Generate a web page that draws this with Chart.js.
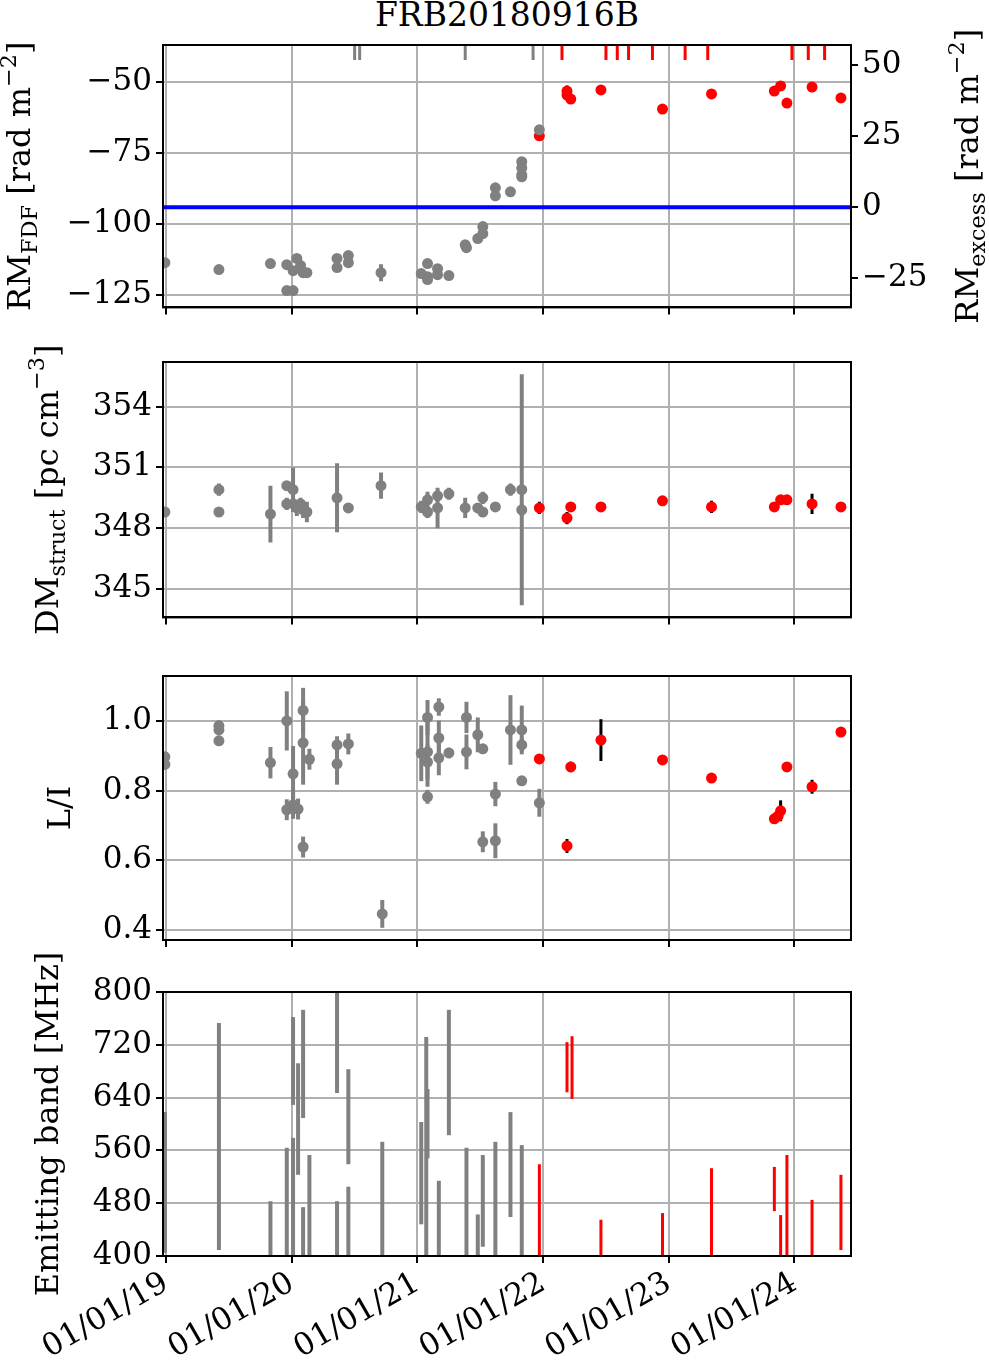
<!DOCTYPE html>
<html><head><meta charset="utf-8">
<script src="https://cdn.jsdelivr.net/npm/chart.js@4"></script>
<style>
body{margin:0;background:#fff;width:989px;height:1369px;position:relative;overflow:hidden}
canvas{position:absolute;left:0}
#ttl{position:absolute;top:-5px;left:163px;width:688px;text-align:center;font:33px "DejaVu Serif";color:#000}
</style></head><body>
<div id="ttl">FRB20180916B</div>
<canvas id="c1" width="989" height="330" style="top:0"></canvas>
<canvas id="c2" width="989" height="310" style="top:330px"></canvas>
<canvas id="c3" width="989" height="330" style="top:645px"></canvas>
<canvas id="c4" width="989" height="439" style="top:930px"></canvas>
<script>
// ---------- data (x in years since 01/01/2019) ----------
const xTickYears = [0,1,2,3,4,5];
const xTickLabels = ["01/01/19","01/01/20","01/01/21","01/01/22","01/01/23","01/01/24"];
// Panel 1: RM
const rmGreyT = [-0.01,0.42,0.83,0.96,1.01,1.04,1.07,1.09,1.12,0.96,1.01,1.36,1.36,1.45,1.45,1.71,2.03,2.08,2.08,2.08,2.16,2.16,2.25,2.38,2.39,2.48,2.52,2.52,2.62,2.62,2.74,2.83,2.83,2.83,2.83,2.97];
const rmGreyV = [-113.5,-115.9,-113.8,-114.2,-116.3,-112,-114.5,-117,-117,-123.3,-123.3,-112,-115.2,-111,-113.5,-117,-117.3,-113.8,-118.4,-119.4,-115.6,-117.7,-118,-107.2,-108.2,-105,-103.3,-100.8,-87.2,-90,-88.6,-78,-80.2,-82.6,-83.3,-66.8];
const rmGreyE = [0.8,0.8,0.8,0.8,0.8,1.5,0.8,0.8,0.8,1.2,1.5,0.8,0.8,0.8,0.8,3,0.8,0.8,0.8,0.8,0.8,0.8,0.8,0.8,0.8,0.8,0.8,0.8,0.8,0.8,0.8,0.8,0.8,0.8,0.8,0.8];
const rmRedT = [2.97,3.19,3.19,3.22,3.46,3.95,4.34,4.84,4.89,4.94,5.14,5.37];
const rmRedV = [-68.9,-53.2,-54.6,-56,-52.8,-59.5,-54.2,-53.2,-51.4,-57.4,-51.8,-55.6];
const rmRedE = [0.5,2,1,0.5,0.5,0.5,0.5,0.5,0.5,0.5,0.5,0.5];
const rmExcessOffset = 94;          // RM_excess = RM_FDF + 94
const rmBlueLevel = [-94,-94];
const burstGreyT = [1.50,1.54,2.38,2.92];
const burstRedT = [3.15,3.50,3.59,3.68,3.87,4.13,4.31,4.98,5.11,5.24];
// Panel 2: DM
const dmGreyT = [-0.01,0.42,0.42,0.83,0.96,0.96,1.01,1.01,1.04,1.07,1.09,1.12,1.36,1.45,1.71,2.03,2.08,2.08,2.16,2.16,2.25,2.38,2.48,2.52,2.52,2.62,2.74,2.83,2.83];
const dmGreyV = [348.8,349.9,348.8,348.7,350.1,349.2,349.9,349.2,349.0,349.2,348.9,348.8,349.5,349.0,350.1,349.05,349.4,348.8,349.6,349.0,349.7,349.0,349.0,349.5,348.8,349.05,349.9,349.9,348.9];
const dmGreyE = [0.1,0.3,0.1,1.4,0.1,0.3,1.1,0.3,0.4,0.3,0.4,0.5,1.7,0.2,0.65,0.3,0.4,0.3,0.2,1.0,0.3,0.5,0.2,0.3,0.2,0.2,0.3,5.7,0.3];
const dmRedT = [2.97,3.19,3.22,3.46,3.95,4.34,4.84,4.89,4.94,5.14,5.37];
const dmRedV = [349.0,348.5,349.05,349.05,349.35,349.05,349.05,349.4,349.4,349.2,349.05];
const dmRedE = [0.3,0.3,0.1,0.1,0.1,0.3,0.1,0.1,0.1,0.5,0.1];
// Panel 3: L/I
const liGreyT = [-0.01,-0.01,0.42,0.42,0.42,0.83,0.96,1.01,0.96,1.01,1.05,1.09,1.09,1.14,1.09,1.36,1.36,1.45,1.72,2.03,2.08,2.08,2.08,2.08,2.17,2.17,2.17,2.25,2.39,2.39,2.48,2.52,2.52,2.62,2.62,2.74,2.83,2.83,2.83,2.97];
const liGreyV = [0.897,0.875,0.986,0.974,0.943,0.88,1.0,0.848,0.745,0.759,0.747,1.03,0.937,0.89,0.638,0.931,0.877,0.934,0.446,0.907,1.01,0.911,0.882,0.782,1.04,0.951,0.894,0.908,1.01,0.911,0.96,0.92,0.653,0.656,0.79,0.974,0.974,0.931,0.828,0.765];
const liGreyE = [0.01,0.01,0.015,0.015,0.01,0.045,0.085,0.08,0.03,0.04,0.03,0.065,0.12,0.03,0.03,0.025,0.06,0.03,0.04,0.08,0.05,0.1,0.05,0.02,0.025,0.05,0.05,0.015,0.045,0.05,0.05,0.01,0.03,0.05,0.035,0.1,0.07,0.02,0.01,0.04];
const liRedT = [2.97,3.19,3.22,3.46,3.95,4.34,4.84,4.87,4.89,4.94,5.14,5.37];
const liRedV = [0.891,0.641,0.868,0.945,0.888,0.836,0.719,0.727,0.742,0.868,0.811,0.968];
const liRedE = [0.005,0.02,0.015,0.06,0.005,0.005,0.015,0.01,0.03,0.005,0.02,0.005];
// Panel 4: emitting band (MHz)
const bandGreyT = [-0.01,0.42,0.83,0.96,1.01,1.01,1.05,1.09,1.09,1.14,1.36,1.36,1.45,1.45,1.72,2.03,2.07,2.08,2.17,2.25,2.39,2.48,2.52,2.62,2.74,2.83];
const bandGreyLo = [405,409,400,400,629,400,523,609,400,400,647,400,539,400,400,448,400,548,400,583,400,400,414,400,459,400];
const bandGreyHi = [618,753,483,564,762,579,692,773,474,553,800,483,683,505,573,603,732,653,514,773,564,463,553,573,618,568];
const bandRedT = [2.97,3.19,3.23,3.46,3.95,4.34,4.84,4.89,4.94,5.14,5.37];
const bandRedLo = [400,648,638,400,400,400,468,400,400,400,409];
const bandRedHi = [539,724,733,455,465,533,535,462,553,485,523];

// ---------- helpers ----------
const GREY='#808080', RED='#ff0000', GRID='#b0b0b0', FONT='"DejaVu Serif"';
const XMIN=-0.025, XMAX=5.45;
const pts=(t,v)=>t.map((x,i)=>({x, y:v[i]}));
const fmt=v=>String(v).replace('-','\u2212');

function drawRich(ctx, parts, cx, cy, size){
  const sm=size*0.7;
  let w=0;
  parts.forEach(p=>{ctx.font=(p.s?sm:size)+'px '+FONT; w+=ctx.measureText(p.t).width;});
  let x=-w/2;
  ctx.save(); ctx.translate(cx,cy); ctx.rotate(-Math.PI/2);
  ctx.fillStyle='#000'; ctx.textBaseline='middle'; ctx.textAlign='left';
  parts.forEach(p=>{
    ctx.font=(p.s?sm:size)+'px '+FONT;
    const dy = p.s==='sub'? size*0.28 : p.s==='sup'? -size*0.38 : 0;
    ctx.fillText(p.t,x,dy); x+=ctx.measureText(p.t).width;
  });
  ctx.restore();
}

const extras={
  id:'extras',
  beforeDatasetsDraw(chart,args,o){
    const {ctx,chartArea:a}=chart, xs=chart.scales.x, ys=chart.scales.y;
    ctx.save(); ctx.beginPath(); ctx.rect(a.left,a.top,a.right-a.left,a.bottom-a.top); ctx.clip();
    (o.segs||[]).forEach(s=>{
      ctx.strokeStyle=s.color; ctx.lineWidth=s.width; ctx.lineCap='butt';
      s.t.forEach((t,i)=>{
        const px=xs.getPixelForValue(t);
        ctx.beginPath(); ctx.moveTo(px,ys.getPixelForValue(s.lo[i])); ctx.lineTo(px,ys.getPixelForValue(s.hi[i])); ctx.stroke();
      });
    });
    ctx.restore();
  },
  afterDraw(chart,args,o){
    const {ctx,chartArea:a}=chart;
    ctx.save(); ctx.strokeStyle='#000'; ctx.lineWidth=2;
    ctx.strokeRect(a.left,a.top,a.right-a.left,a.bottom-a.top); ctx.restore();
    (o.titles||[]).forEach(t=>drawRich(ctx,t.parts,t.x,(a.top+a.bottom)/2,t.size||32));
  }
};

function xAxis(show, h){
  return {type:'linear',min:XMIN,max:XMAX,
    afterBuildTicks:s=>{s.ticks=xTickYears.map(v=>({value:v}));},
    afterFit:s=>{s.height=h;},
    grid:{color:GRID,lineWidth:2,tickColor:'#000',tickLength:7,tickWidth:2},
    border:{color:'#000',width:2},
    ticks:{display:show,color:'#000',font:{family:FONT,size:31},maxRotation:30,minRotation:30,padding:2,
      callback:(v,i)=>xTickLabels[xTickYears.indexOf(v)]}};
}
function yAxis(min,max,ticks,dec,pos,w,grid=true){
  return {type:'linear',position:pos,min,max,
    afterBuildTicks:s=>{s.ticks=ticks.map(v=>({value:v}));},
    afterFit:s=>{s.width=w;},
    grid:{display:true,drawOnChartArea:grid,color:GRID,lineWidth:2,tickColor:'#000',tickLength:7,tickWidth:2},
    border:{color:'#000',width:2},
    ticks:{color:'#000',font:{family:FONT,size:31},padding:4,callback:v=>fmt(v.toFixed(dec))}};
}
function sc(data,color,r){return {type:'scatter',data,backgroundColor:color,borderColor:color,pointRadius:r||5.5,pointHoverRadius:0,borderWidth:0};}
function errSeg(t,v,e,color,w){return {t,lo:v.map((y,i)=>y-e[i]),hi:v.map((y,i)=>y+e[i]),color,width:w||4};}

// create chart, then shift padding so that its plot area lands on the target page rows
function make(id,datasets,scales,plug,rightPad,areaTop,areaBottom){
  const cv=document.getElementById(id), off=parseFloat(cv.style.top)||0;
  const ch=new Chart(cv,{
    data:{datasets},
    options:{responsive:false,animation:false,events:[],devicePixelRatio:1,
      layout:{padding:{top:10,bottom:0,left:0,right:rightPad}},
      plugins:{legend:{display:false},tooltip:{enabled:false},title:{display:false},extras:plug},
      scales},
    plugins:[extras]});
  for(let k=0;k<4;k++){
    const a=ch.chartArea, p=ch.options.layout.padding;
    const dt=(areaTop-off)-a.top, db=a.bottom-(areaBottom-off);
    if(Math.abs(dt)<0.5&&Math.abs(db)<0.5) break;
    ch.options.layout.padding={top:Math.max(0,p.top+dt),bottom:Math.max(0,p.bottom+db),left:0,right:rightPad};
    ch.update();
  }
  return ch;
}

// Panel 1
const burstTop=-37, burstBot=-42.3;
make('c1',[
  {type:'line',data:pts([XMIN,XMAX],rmBlueLevel),borderColor:'#0000ff',borderWidth:4,pointRadius:0},
  sc(pts(rmGreyT,rmGreyV),GREY),
  sc(pts(rmRedT,rmRedV),RED)
],{
  x:xAxis(false,8),
  y:yAxis(-129.2,-37,[-125,-100,-75,-50],0,'left',163),
  y2:yAxis(-129.2+rmExcessOffset,-37+rmExcessOffset,[-25,0,25,50],0,'right',138,false)
},{
  segs:[errSeg(rmGreyT,rmGreyV,rmGreyE,GREY),errSeg(rmRedT,rmRedV,rmRedE,'#000',3),
    {t:burstGreyT,lo:burstGreyT.map(()=>burstBot),hi:burstGreyT.map(()=>burstTop),color:GREY,width:3},
    {t:burstRedT,lo:burstRedT.map(()=>burstBot),hi:burstRedT.map(()=>burstTop),color:RED,width:3}],
  titles:[{x:22,parts:[{t:'RM'},{t:'FDF',s:'sub'},{t:' [rad m'},{t:'\u22122',s:'sup'},{t:']'}]},
          {x:970,parts:[{t:'RM'},{t:'excess',s:'sub'},{t:' [rad m'},{t:'\u22122',s:'sup'},{t:']'}]}]
},0,45,308);

// Panel 2
make('c2',[sc(pts(dmGreyT,dmGreyV),GREY),sc(pts(dmRedT,dmRedV),RED)],{
  x:xAxis(false,8),
  y:yAxis(343.6,356.2,[345,348,351,354],0,'left',163)
},{
  segs:[errSeg(dmGreyT,dmGreyV,dmGreyE,GREY),errSeg(dmRedT,dmRedV,dmRedE,'#000',3)],
  titles:[{x:50,parts:[{t:'DM'},{t:'struct',s:'sub'},{t:' [pc cm'},{t:'\u22123',s:'sup'},{t:']'}]}]
},138,362,625);

// Panel 3
make('c3',[sc(pts(liGreyT,liGreyV),GREY),sc(pts(liRedT,liRedV),RED)],{
  x:xAxis(false,8),
  y:yAxis(0.371,1.129,[0.4,0.6,0.8,1.0],1,'left',163)
},{
  segs:[errSeg(liGreyT,liGreyV,liGreyE,GREY),errSeg(liRedT,liRedV,liRedE,'#000',3)],
  titles:[{x:62,parts:[{t:'L/I'}]}]
},138,676,940);

// Panel 4
make('c4',[],{
  x:xAxis(true,113),
  y:yAxis(400,800,[400,480,560,640,720,800],0,'left',163)
},{
  segs:[{t:bandGreyT,lo:bandGreyLo,hi:bandGreyHi,color:GREY,width:4},
        {t:bandRedT,lo:bandRedLo,hi:bandRedHi,color:RED,width:3}],
  titles:[{x:50,parts:[{t:'Emitting band [MHz]'}]}]
},138,992,1256);
</script></body></html>
